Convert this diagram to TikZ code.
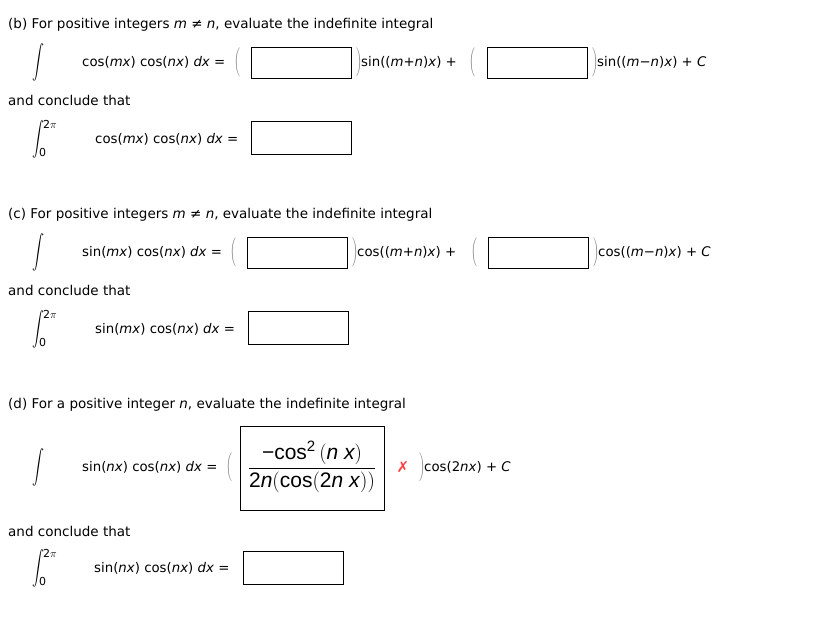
\documentclass[tikz,border=0pt]{standalone}
\usepackage{fontspec}
\usepackage{graphicx}
\setmainfont{DejaVu Sans}
\newfontfamily\fracfont{Liberation Sans}
\newcommand{\bigint}{\scalebox{1.2}[1.7]{$\displaystyle\int$}}
\newcommand{\lp}{\scalebox{1}[1.6]{$\Big($}}
\newcommand{\rp}{\scalebox{1}[1.6]{$\Big)$}}
\begin{document}
\begin{tikzpicture}[x=1pt,y=-1pt,
  txt/.style={anchor=west,inner sep=0pt,font=\fontsize{13.5}{15}\selectfont},
  eq/.style={anchor=west,inner sep=0pt,font=\fontsize{13.3}{15}\selectfont},
  ansbox/.style={draw,line width=0.8pt,anchor=north west,inner sep=0pt},
  intg/.style={inner sep=0pt},
  par/.style={inner sep=0pt,text=gray},
  lim/.style={inner sep=0pt,anchor=west,font=\fontsize{11}{12}\selectfont}]
\useasboundingbox[fill=white] (0,0) rectangle (815,623);
% (b)
\node[txt] (bt) at (8,25) {(b) For positive integers \textit{m} ≠ \textit{n}, evaluate the indefinite integral};
\node[intg] (bi) at (38,62) {\bigint};
\node[eq] (be) at (82,62) {cos(\textit{mx}) cos(\textit{nx}) \textit{dx} =};
\node[par] (bp1) at (237,62) {\lp};
\node[ansbox,minimum width=100pt,minimum height=31pt] (bb1) at (251,47) {};
\node[par] (bp2) at (359,62) {\rp};
\node[eq] (bs1) at (361,62) {sin((\textit{m}+\textit{n})\textit{x}) +};
\node[par] (bp3) at (472,62) {\lp};
\node[ansbox,minimum width=100pt,minimum height=31pt] (bb2) at (487,47) {};
\node[par] (bp4) at (595,62) {\rp};
\node[eq] (bs2) at (597,62) {sin((\textit{m}−\textit{n})\textit{x}) + \textit{C}};
\node[txt] (bc) at (8,100) {and conclude that};
\node[intg] (bi2) at (38,139) {\bigint};
\node[lim] (bu) at (43,124) {2$\pi$};
\node[lim] (bl) at (39,152) {0};
\node[eq] (be2) at (95,139) {cos(\textit{mx}) cos(\textit{nx}) \textit{dx} =};
\node[ansbox,minimum width=100pt,minimum height=33pt] (bb3) at (251,121) {};
% (c)
\node[txt] (ct) at (8,215) {(c) For positive integers \textit{m} ≠ \textit{n}, evaluate the indefinite integral};
\node[intg] (ci) at (38,252) {\bigint};
\node[eq] (ce) at (82,252) {sin(\textit{mx}) cos(\textit{nx}) \textit{dx} =};
\node[par] (cp1) at (233,252) {\lp};
\node[ansbox,minimum width=100pt,minimum height=31pt] (cb1) at (247,237) {};
\node[par] (cp2) at (355,252) {\rp};
\node[eq] (cs1) at (357,252) {cos((\textit{m}+\textit{n})\textit{x}) +};
\node[par] (cp3) at (474,252) {\lp};
\node[ansbox,minimum width=100pt,minimum height=31pt] (cb2) at (488,237) {};
\node[par] (cp4) at (596,252) {\rp};
\node[eq] (cs2) at (598,252) {cos((\textit{m}−\textit{n})\textit{x}) + \textit{C}};
\node[txt] (cc) at (8,290) {and conclude that};
\node[intg] (ci2) at (38,329) {\bigint};
\node[lim] (cu) at (43,314) {2$\pi$};
\node[lim] (cl) at (39,342) {0};
\node[eq] (ce2) at (95,329) {sin(\textit{mx}) cos(\textit{nx}) \textit{dx} =};
\node[ansbox,minimum width=100pt,minimum height=33pt] (cb3) at (248,311) {};
% (d)
\node[txt] (dt) at (8,405) {(d) For a positive integer \textit{n}, evaluate the indefinite integral};
\node[intg] (di) at (38,467) {\bigint};
\node[eq] (de) at (82,467) {sin(\textit{nx}) cos(\textit{nx}) \textit{dx} =};
\node[par] (dp1) at (229,467) {\lp};
\node[ansbox,minimum width=144pt,minimum height=84pt] (db) at (240,426) {};
\node[inner sep=0pt,font=\fracfont\fontsize{21}{24}\selectfont] (df) at (312,467)
  {$\displaystyle\frac{\hbox{\fracfont −cos$^{\hbox{\fracfont\fontsize{15}{15}\selectfont 2}}$\,$\left(\hbox{\fracfont\itshape n x}\right)$}}{\hbox{\fracfont 2\textit{n}$\left(\hbox{\fracfont cos$\left(\hbox{\fracfont 2\textit{n} \textit{x}}\right)$}\right)$}}$};
\node[inner sep=0pt,text=red!75!white,font=\bfseries\fontsize{15}{15}\selectfont] (dx) at (403,467) {✗};
\node[par] (dp2) at (422,467) {\rp};
\node[eq] (ds) at (424,467) {cos(2\textit{nx}) + \textit{C}};
\node[txt] (dc) at (8,531) {and conclude that};
\node[intg] (di2) at (38,568) {\bigint};
\node[lim] (du) at (43,553) {2$\pi$};
\node[lim] (dl) at (39,581) {0};
\node[eq] (de2) at (94,568) {sin(\textit{nx}) cos(\textit{nx}) \textit{dx} =};
\node[ansbox,minimum width=100pt,minimum height=33pt] (db3) at (243,551) {};
\end{tikzpicture}
\end{document}
